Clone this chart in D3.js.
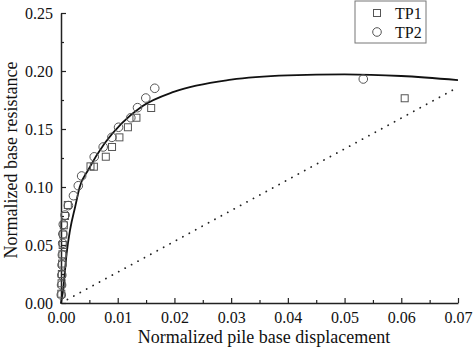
<!DOCTYPE html>
<html lang="en">
<head>
    <meta charset="UTF-8">
    <title>Normalized base resistance</title>
    <script src="https://d3js.org/d3.v7.min.js"></script>
    <style>
        body { margin: 0; background: #fff; }
        svg text { font-family: "Liberation Serif", "Times New Roman", serif; fill: #111; }
    </style>
</head>
<body>
<svg id="graph"></svg>
<script>
    // measured points, TP1 (squares)
    const TP1_X = [0.00005, 0.0001, 0.00015, 0.0002, 0.00025, 0.0003, 0.0004, 0.0005, 0.0007, 0.0012,
        0.0052, 0.0058, 0.0079, 0.0090, 0.0103, 0.0118, 0.0133, 0.0159, 0.0606];
    const TP1_Y = [0.008, 0.017, 0.025, 0.034, 0.042, 0.050, 0.059, 0.067, 0.075, 0.0845,
        0.1178, 0.1175, 0.1261, 0.1345, 0.1428, 0.1515, 0.1597, 0.1681, 0.1765];

    // measured points, TP2 (circles)
    const TP2_X = [0.00005, 0.0001, 0.00014, 0.00018, 0.00024, 0.0003, 0.00032, 0.0004, 0.00072, 0.0013,
        0.0022, 0.00305, 0.00364, 0.00586, 0.00744, 0.00897, 0.01015, 0.01231, 0.01349, 0.01495, 0.01653, 0.0533];
    const TP2_Y = [0.007, 0.0155, 0.024, 0.0328, 0.0414, 0.0515, 0.0595, 0.0678, 0.0758, 0.084,
        0.0925, 0.1011, 0.1095, 0.126, 0.1345, 0.1428, 0.1515, 0.1597, 0.1684, 0.1767, 0.1851, 0.1931];

    // fitted curve (solid)
    const FIT_X = [0, 0.0001, 0.0004, 0.0007, 0.001, 0.0016, 0.0025, 0.0033, 0.0048, 0.0077, 0.0107, 0.0142, 0.02, 0.03, 0.04, 0.05, 0.06, 0.07];
    const FIT_Y = [0, 0.003, 0.012, 0.028, 0.043, 0.063, 0.083, 0.1, 0.1147, 0.1377, 0.1549, 0.1692, 0.1822, 0.1925, 0.1962, 0.1971, 0.1957, 0.1922];

    // linear reference (dotted)
    const LIN_X = [0, 0.07];
    const LIN_Y = [0, 0.186];

    const X_TICKS = [0, 0.01, 0.02, 0.03, 0.04, 0.05, 0.06, 0.07];
    const Y_TICKS = [0, 0.05, 0.10, 0.15, 0.20, 0.25];

    const width = 474, height = 352;
    const margins = {top: 13, right: 15, bottom: 49, left: 61};
    const w = width - margins.left - margins.right;
    const h = height - margins.top - margins.bottom;

    const svg = d3.select("#graph")
        .attr("width", width)
        .attr("height", height);

    const g = svg.append("g")
        .attr("transform", "translate(" + margins.left + "," + margins.top + ")");

    const xScale = d3.scaleLinear().domain([0, 0.07]).range([0, w - 1]);
    const yScale = d3.scaleLinear().domain([0, 0.25]).range([h, 0]);

    // minor ticks
    g.append("g").attr("class", "minor")
        .attr("transform", "translate(0," + h + ")")
        .call(d3.axisBottom(xScale).tickValues(d3.range(0.005, 0.07, 0.01)).tickSize(-3).tickFormat(""));
    g.append("g").attr("class", "minor")
        .call(d3.axisLeft(yScale).tickValues(d3.range(0.025, 0.25, 0.05)).tickSize(-3).tickFormat(""));
    g.selectAll(".minor .domain").remove();

    const xAxis = g.append("g")
        .attr("transform", "translate(0," + h + ")")
        .call(d3.axisBottom(xScale).tickValues(X_TICKS).tickSize(-5).tickSizeOuter(0).tickPadding(8).tickFormat(d3.format(".2f")));
    const yAxis = g.append("g")
        .call(d3.axisLeft(yScale).tickValues(Y_TICKS).tickSize(-5).tickSizeOuter(0).tickPadding(8).tickFormat(d3.format(".2f")));

    g.selectAll(".domain").attr("stroke", "#222").attr("stroke-width", 1.5);
    g.selectAll(".tick line").attr("stroke", "#222").attr("stroke-width", 1.2);
    xAxis.selectAll("text").attr("font-size", 16).attr("font-family", "Liberation Serif").attr("dy", "0.75em");
    yAxis.selectAll("text").attr("font-size", 16).attr("font-family", "Liberation Serif");

    const line = d3.line()
        .x(d => xScale(d[0]))
        .y(d => yScale(d[1]));

    g.append("path")
        .datum(LIN_X.map((x, i) => [x, LIN_Y[i]]))
        .attr("d", line)
        .attr("fill", "none")
        .attr("stroke", "#222")
        .attr("stroke-width", 1.8)
        .attr("stroke-linecap", "round")
        .attr("stroke-dasharray", "0.1 7.2");

    g.append("path")
        .datum(FIT_X.map((x, i) => [x, FIT_Y[i]]))
        .attr("d", line.curve(d3.curveMonotoneX))
        .attr("fill", "none")
        .attr("stroke", "#111")
        .attr("stroke-width", 1.8);

    const sq = 7;
    g.selectAll(".tp1")
        .data(TP1_X.map((x, i) => [x, TP1_Y[i]]))
        .enter().append("rect")
        .attr("x", d => xScale(d[0]) - sq / 2)
        .attr("y", d => yScale(d[1]) - sq / 2)
        .attr("width", sq).attr("height", sq)
        .attr("fill", "none").attr("stroke", "#555").attr("stroke-width", 1);

    g.selectAll(".tp2")
        .data(TP2_X.map((x, i) => [x, TP2_Y[i]]))
        .enter().append("circle")
        .attr("cx", d => xScale(d[0]))
        .attr("cy", d => yScale(d[1]))
        .attr("r", 4.3)
        .attr("fill", "none").attr("stroke", "#555").attr("stroke-width", 1);

    // legend
    const legend = svg.append("g").attr("transform", "translate(355,1)");
    legend.append("rect").attr("width", 71).attr("height", 42)
        .attr("fill", "#fff").attr("stroke", "#777").attr("stroke-width", 1);
    legend.append("rect").attr("x", 22 - sq / 2).attr("y", 12 - sq / 2).attr("width", sq).attr("height", sq)
        .attr("fill", "none").attr("stroke", "#555");
    legend.append("circle").attr("cx", 22).attr("cy", 31).attr("r", 4.3)
        .attr("fill", "none").attr("stroke", "#555");
    legend.append("text").attr("x", 40).attr("y", 18).attr("font-size", 16).text("TP1");
    legend.append("text").attr("x", 40).attr("y", 37).attr("font-size", 16).text("TP2");

    // titles
    svg.append("text")
        .attr("x", margins.left + w / 2 + 4)
        .attr("y", 343)
        .attr("text-anchor", "middle")
        .attr("font-size", 18)
        .text("Normalized pile base displacement");
    svg.append("text")
        .attr("transform", "translate(17,160) rotate(-90)")
        .attr("text-anchor", "middle")
        .attr("font-size", 18)
        .text("Normalized base resistance");
</script>
</body>
</html>
